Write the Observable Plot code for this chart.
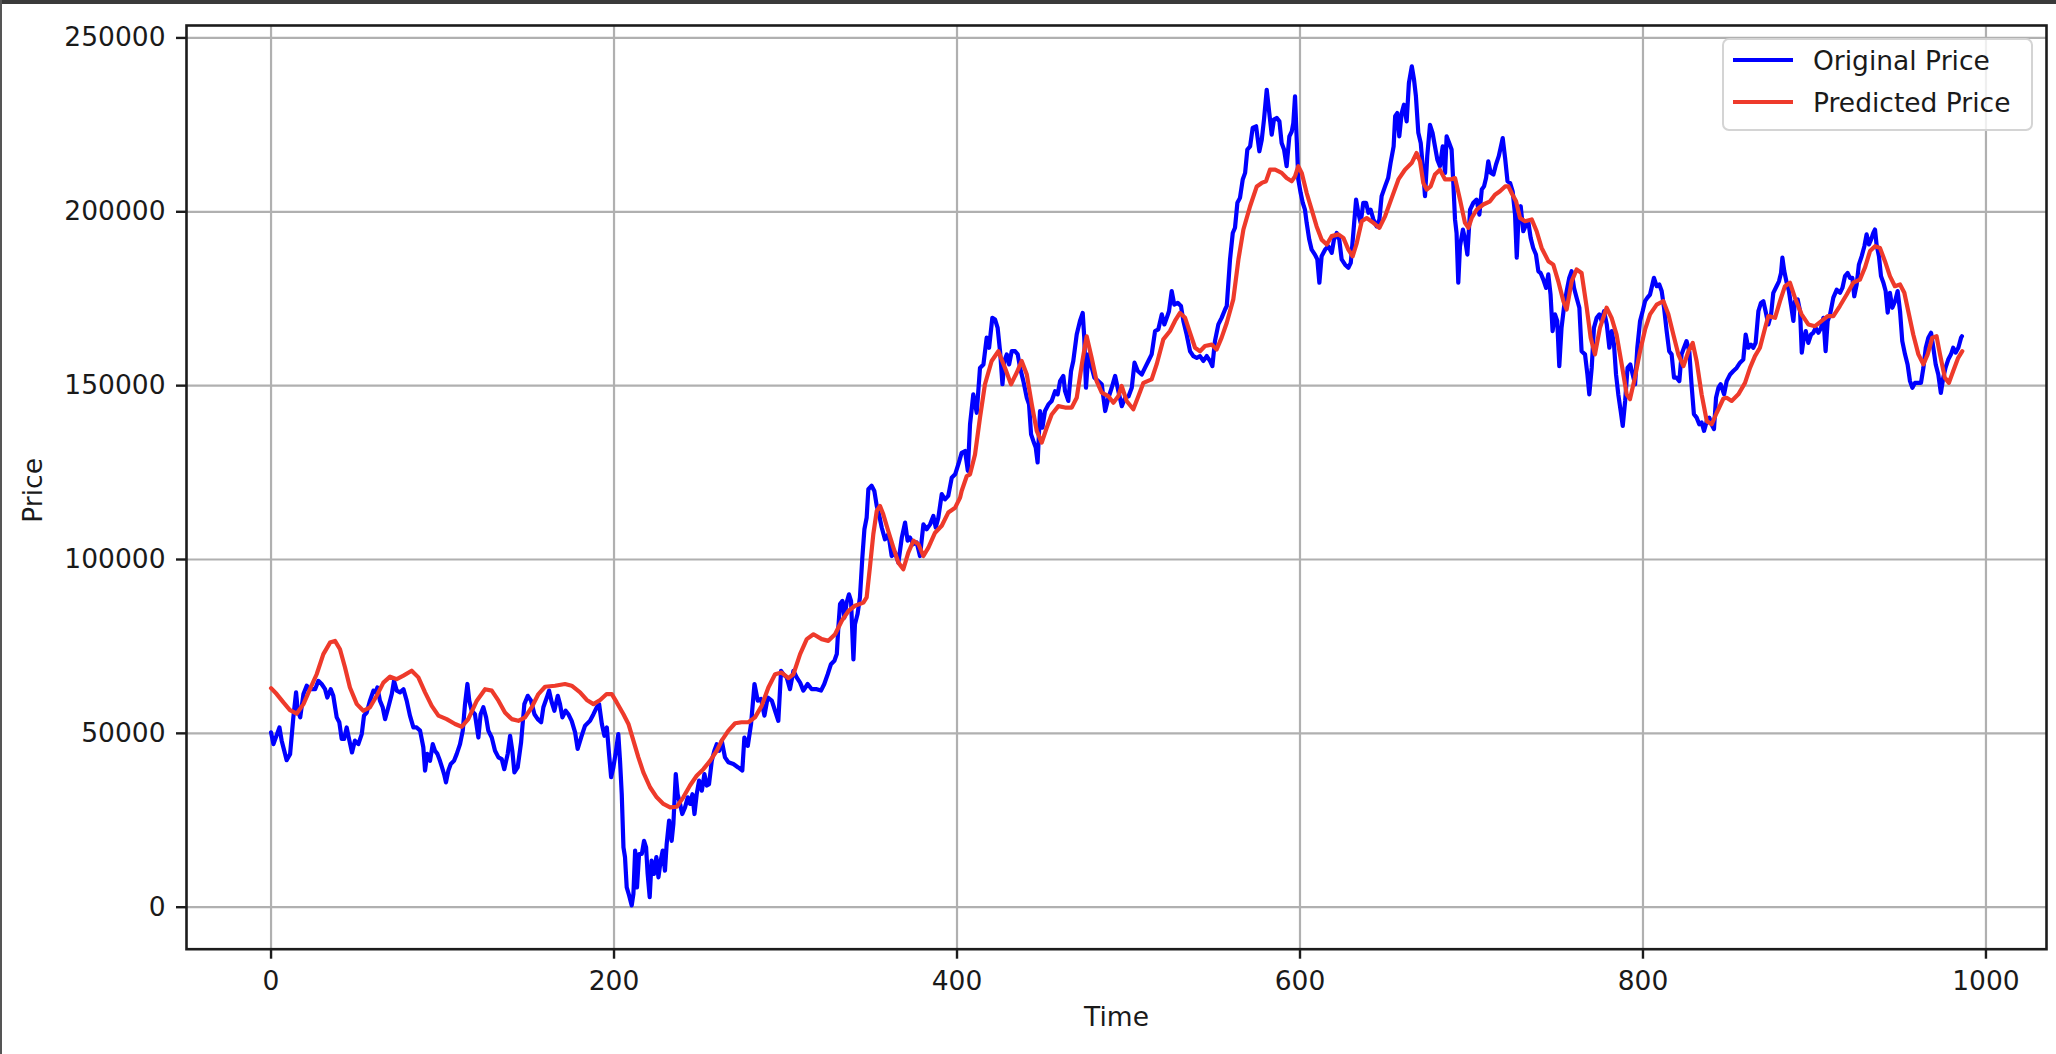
<!DOCTYPE html>
<html>
<head>
<meta charset="utf-8">
<script src="https://cdn.jsdelivr.net/npm/d3@7"></script>
<script src="https://cdn.jsdelivr.net/npm/@observablehq/plot@0.6"></script>
<style>
  html, body { margin: 0; padding: 0; background: #fff; width: 2056px; height: 1054px; overflow: hidden; }
  #chart { position: absolute; left: 0; top: 0; }
  .bar-top { position: absolute; left: 0; top: 0; width: 2056px; height: 4px; background: #3a3a3a; }
  .bar-left { position: absolute; left: 0; top: 0; width: 2px; height: 1054px; background: #555; }
</style>
</head>
<body>
<div id="chart"></div>
<div class="bar-top"></div>
<div class="bar-left"></div>
<script>
// ---- Data: [time, price] ----
const originalPrice = [
[0,50300],[1.4,46900],[4.9,51700],[6.2,47900],[9.1,42300],[11.1,44000],[13,54600],[14.6,61800],[15.6,56500],[17,54600],
[18.9,61300],[20.8,63700],[22.7,62700],[25.7,62700],[27.6,65100],[29.5,64200],[31.5,62700],[32.8,60300],[34.8,62700],[36.3,60800],
[38.3,54600],[39.8,53200],[41.2,48400],[42.6,48400],[44.1,51700],[45.7,47900],[47.2,44500],[48.9,47900],[50.9,46900],[52.9,49800],
[54.2,55100],[55.8,56000],[57.7,59400],[59.7,62300],[61,61800],[62,63200],[63.5,59400],[65.1,57500],[66.5,54100],[68.4,57500],
[70.4,61300],[71.7,65100],[73.3,62300],[75.2,61800],[77.2,62700],[79.1,59400],[81,55100],[83,51700],[84.9,51700],[86.9,50800],
[88.8,46000],[89.8,39300],[91.1,44100],[92.7,42100],[94.3,46900],[95.6,45000],[97,44100],[98.5,42100],[99.7,40200],[100.9,38300],
[102,35900],[103.4,39300],[104.8,41200],[106.7,42100],[108.3,44100],[110.2,46900],[111.8,50800],[113.1,58400],[114.5,64200],[115.6,59400],
[117,56500],[118.9,55500],[120.9,48800],[122.2,55500],[123.8,57500],[125.4,54600],[126.7,50800],[128.7,48800],[130.6,45000],[132.6,43100],
[134.5,42600],[136,39700],[138,44100],[139.4,49300],[140.7,45000],[141.9,38800],[143.8,40200],[145.8,47400],[147.7,58400],[149.7,60800],
[151.6,59400],[153.6,55500],[155.5,54100],[157.5,53200],[158.8,57500],[160.8,60300],[162.1,62300],[163.7,58900],[165.2,56500],[167.2,60800],
[168.5,58400],[169.9,54600],[171.8,56500],[173.4,55500],[175.3,53600],[177.3,50300],[178.8,45500],[180.8,48800],[183.1,52200],[186,53600],
[188,55500],[189.9,57500],[191.3,58400],[192.9,52700],[194.4,49300],[195.8,51700],[197.1,44100],[198.3,37400],[199.6,40200],[201,44500],
[202.5,49800],[203.5,42100],[204.5,32500],[205.5,17200],[206.4,14400],[207.4,5700],[208.8,3400],[210.3,500],[211.3,3800],[212.3,16300],
[213.4,5700],[214.6,15300],[216.2,15300],[217.5,19100],[218.7,17200],[219.6,9600],[220.8,2900],[221.9,13400],[223.3,9600],[224.7,14400],
[225.9,8600],[227.2,13400],[228.4,16300],[229.7,10500],[230.7,18200],[232.1,24900],[233.6,19100],[234.6,23900],[236,38300],[237.1,32500],
[238.5,29700],[239.8,26800],[241.4,28700],[243,31600],[244.3,29700],[245.7,32500],[246.9,26800],[248.2,32500],[249.6,36400],[251.2,33500],
[252.7,38300],[254.1,35000],[255.4,35400],[257,42100],[258.5,45000],[259.9,46900],[261.3,45000],[262.8,47900],[264.7,43100],[266.7,41700],
[269.6,41200],[272.4,40200],[274.8,39300],[276,48800],[278,46400],[279.9,52700],[281.9,64200],[283.8,59400],[285.7,59900],[287.7,55100],
[289.6,60300],[292,59400],[293.9,56500],[295.8,53600],[297.4,68000],[298.7,67000],[300.7,66100],[302.6,62700],[304.6,68000],[306.5,66100],
[308.5,64600],[310.4,62300],[312.9,64200],[315.3,62700],[318.2,62700],[320.7,62300],[322.6,64200],[324.6,67000],[326.5,69900],[328.5,70900],
[329.9,72800],[330.8,80500],[331.8,87200],[333.2,88100],[334.3,83300],[335.7,87700],[337,90000],[338.2,88100],[339.6,71300],[340.5,81400],
[342,84300],[343.4,89100],[344.8,100600],[346,108700],[347.3,112000],[348.3,120200],[350.2,121200],[351.8,119700],[353.2,115400],[354.5,113000],
[356.1,109200],[358,105800],[360,107300],[361.9,101000],[363.9,102000],[365.8,99100],[367.8,106300],[369.7,110600],[371.2,105400],[372.6,106300],
[374.5,104400],[376.5,104900],[378.4,101000],[380.4,110100],[382.3,108700],[384.3,110100],[386.2,112500],[387.6,109200],[389.1,112000],[391.1,118800],
[393,117300],[394.9,118300],[396.9,123500],[398.9,124500],[400.8,127400],[402.7,130700],[404.7,131200],[406.3,125500],[407.6,138900],[409.5,147500],
[411.5,142200],[413.4,155100],[415.4,156100],[417.3,163800],[418.7,160900],[420.6,169500],[422.2,169000],[423.7,166600],[425.1,159900],[426.5,150400],
[427.6,157100],[429,159000],[430.4,156100],[431.9,159900],[433.9,159900],[435.4,159000],[436.8,155100],[438.7,151300],[440.7,146500],[442,144600],
[443.2,136000],[444.5,134100],[445.9,132200],[447,127900],[448.4,142700],[449.8,137900],[451.3,142700],[453.3,144600],[455.2,145600],[457.2,148400],
[458.7,147500],[460.1,151300],[462,152800],[463,148400],[464.9,145600],[466.5,154200],[467.8,157100],[469.8,164700],[471.7,168600],[473.3,170900],
[474.2,163800],[475.2,149400],[476.6,159000],[478.1,156100],[480.1,152300],[482.4,151300],[484.4,150400],[486.4,142700],[488.3,146500],[490.2,149400],
[492.2,152800],[494.1,148400],[496.1,144100],[498,146500],[500,146900],[501.9,149400],[503.5,156600],[505.4,154200],[507.7,153200],[509.6,155100],
[511.6,157100],[513.5,159000],[515.5,165700],[517.4,166200],[519.4,170500],[520.9,167600],[522.3,169500],[523.6,171400],[525.2,177200],[526.7,173300],
[528.7,173800],[530.6,172900],[532,168600],[533.9,164700],[535.9,159900],[537.8,158500],[539.8,158000],[541.7,158500],[543.6,157100],[545.6,158500],
[547.5,157100],[548.9,155600],[550.4,162800],[552.4,167600],[554.3,169500],[556.3,171900],[557.3,172900],[559.2,186300],[560.8,193900],[562.1,195400],
[563.5,202600],[565,204000],[566.6,209300],[568,211200],[569.3,217900],[570.9,218800],[572.4,224100],[574.4,224600],[576.3,217400],[577.7,220700],
[579,226500],[580.6,235100],[582.1,228400],[583.5,222200],[584.8,226500],[586.4,227000],[588,226000],[589.3,219800],[590.7,217900],[592.2,213100],
[593.8,221700],[595.2,223100],[596.1,225500],[597.1,233200],[598.1,220700],[599,209300],[600.4,205400],[601.6,202600],[602.9,200600],[603.9,196800],
[605.4,192000],[606.8,189100],[608.7,187700],[610.1,186300],[611.3,179600],[612.6,187200],[614.6,189100],[616.5,190100],[618.5,188200],[619.8,192000],
[621.4,193900],[622.9,192000],[624.3,186300],[626.3,184800],[628.2,183900],[629.6,185300],[631.1,193900],[632.7,203500],[634,199700],[635.4,196800],
[636.9,202600],[638.5,202600],[639.9,199700],[641.2,200600],[642.8,197800],[644.7,195800],[646.3,197800],[647.6,204500],[649.6,207300],[651.4,209700],
[652.8,214000],[654.6,218800],[655.5,227500],[656.7,228400],[657.9,221700],[659.3,228400],[660.6,230800],[662.2,226000],[663.5,237000],[665.2,241800],
[666.5,238000],[667.6,233200],[669,222700],[670.4,219800],[671.9,211200],[672.9,204500],[674.2,216000],[675.8,225000],[677.3,222700],[678.7,218800],
[680.1,215000],[681.6,213100],[683.2,218800],[684.6,211200],[685.5,221700],[687,219800],[688.4,217900],[689.4,208300],[690.4,197800],[691.3,193900],
[692.3,179600],[693.3,190100],[695,194900],[696.3,192000],[697.6,187700],[699.2,200600],[701.1,202600],[703,203500],[704.6,199200],[706,206400],
[707.3,207300],[708.5,209700],[709.8,214500],[711.2,211200],[712.8,210700],[714.3,213600],[715.9,216000],[717,218400],[718.2,221200],[719.6,215500],
[721,208800],[722.5,208300],[724,205900],[725.4,199200],[726.4,186800],[727.3,197300],[728.7,201600],[730.2,194400],[731.8,196300],[733.1,197300],
[734.5,192500],[736,189600],[737.6,187700],[739,182900],[740.3,182400],[741.9,180500],[743.5,178100],[744.8,182000],[746.1,176200],[747.3,165700],
[748.7,170500],[750,168600],[751.2,155600],[752.5,166600],[753.9,172400],[755.5,177200],[757,181000],[758.4,182900],[759.8,178100],[761.3,175300],
[762.9,172400],[764.2,159900],[766.2,159000],[767.6,153200],[768.7,147500],[770.1,155100],[771.4,166600],[773,169500],[774.6,170500],[775.9,168600],
[777.3,171400],[778.9,167600],[780.4,160900],[781.8,165700],[783.1,161800],[784.3,153200],[785.6,147500],[787,142700],[788.2,138400],[789.6,145600],
[791,155100],[792.6,156100],[794,153200],[795.4,150400],[796.7,160900],[798.3,168600],[799.8,171400],[801.2,174300],[802.6,175300],[804.1,176200],
[805,178100],[806.4,181000],[808,178600],[809.5,179100],[810.9,177200],[812.3,172400],[813.8,165700],[815.3,159900],[816.7,159000],[818.1,152300],
[819.6,152300],[821.2,151300],[822.5,159000],[823.9,160900],[825.4,162800],[827,159900],[828.3,150400],[829.7,141800],[831.3,140800],[832.8,138900],
[834.2,139400],[835.6,137000],[837.2,139800],[838.7,140800],[840,138900],[841.4,137500],[842.6,146500],[844,149400],[845.3,150400],[847.3,147500],
[848.8,151300],[850.8,153200],[852.7,154200],[854.6,155100],[856.6,156600],[858.5,157500],[859.9,164700],[861.4,160900],[863,161800],[864.3,160900],
[865.7,162300],[867.3,171400],[868.8,173800],[870.2,174300],[871.5,171400],[873.1,167600],[874.7,170500],[876,176700],[877.9,178600],[879.3,180000],
[880.5,182400],[881.3,186800],[882.4,182900],[883.8,179600],[885.1,177200],[886.3,173300],[887.7,168600],[888.6,174300],[890.2,174800],[891.6,171400],
[892.6,159500],[893.5,162800],[894.9,165700],[896.4,162300],[898,164700],[899.3,165200],[900.7,166600],[902.3,165200],[903.8,166600],[905.2,169500],
[906.5,159900],[907.7,168600],[909.1,170500],[911,175300],[913,177600],[914.9,176700],[916.3,178100],[917.8,181500],[919.3,182400],[920.7,181000],
[922.1,181000],[923.2,175700],[924.6,179100],[925.9,184800],[927.5,187200],[929.1,190100],[930.4,193500],[931.8,190600],[933,192000],[934.3,193900],
[935.3,194900],[936.2,190600],[937.6,187200],[938.8,181500],[940.2,179600],[941.5,177200],[942.7,171000],[944,176700],[945.4,172400],[947,174300],
[948.5,177200],[949.9,171400],[951.2,162800],[952.8,159000],[954.3,156100],[955.7,151300],[957.1,149400],[958.6,150800],[960.6,150800],[962.1,150800],
[963.5,155100],[964.9,160900],[966.4,163800],[968,165200],[969.3,160900],[970.7,156100],[972.2,153200],[973.7,147900],[975.1,152300],[976.4,155100],
[978,157500],[979.6,159000],[980.9,160900],[982.3,159500],[983.9,160900],[985.5,163800],[986,164200]
];

const predictedPrice = [
[0,63000],[3.3,61300],[7.2,58900],[11,56700],[15,55700],[18.9,58400],[22.7,62700],[26.6,67000],[30.5,72800],[34.4,76100],
[37.3,76600],[40.2,74200],[43.1,69000],[46,63200],[50,58400],[53.8,56500],[57.7,57500],[61.6,60800],[65.5,64600],[69.4,66300],
[73.3,65600],[77.2,66600],[82,68000],[85.9,66100],[89.8,61800],[93.7,57900],[97.6,55100],[102.4,54100],[107.3,52700],[111.2,51900],
[115,54100],[120,59400],[124.8,62700],[128.7,62300],[132.6,59400],[136.4,56000],[140.3,54100],[144.2,53600],[148.1,54600],[152,57500],
[155.9,61300],[159.8,63400],[165.6,63700],[171.4,64200],[175.3,63700],[180.2,61800],[184.1,59600],[188,58400],[191.9,59600],[195.7,61300],
[198.7,61300],[201.6,58900],[205.5,55500],[208.4,52700],[211.3,47900],[214.2,43100],[217.1,38800],[221,34500],[224.9,31600],[228.8,29700],
[232.7,28700],[236.6,28900],[240.4,31600],[244.3,35000],[248.2,37800],[252.1,39700],[256,42100],[259.9,45000],[262.8,47900],[266.7,50800],
[270.6,52900],[274.4,53200],[278.3,53200],[282.2,54600],[286.1,57900],[290,63200],[293.9,67000],[297.7,67500],[301.7,65900],[304.6,67000],
[308.5,72800],[312.4,77100],[316.3,78500],[321.1,77100],[325,76600],[328.9,78500],[332.8,82400],[336.7,85200],[340.5,86700],[345.4,87600],
[347.3,89100],[349.2,97700],[351.2,107300],[353.2,114000],[355.1,115400],[357,113000],[359.9,108200],[362.9,103400],[365.8,99100],[368.7,97200],
[371.6,102000],[374.6,105400],[377.5,104400],[380.4,101000],[383.3,103400],[387.2,107700],[391.1,109700],[394.9,113500],[398.9,114900],[401.8,117800],
[402.7,119700],[405.7,124000],[407.6,124500],[410.5,130200],[413.4,140800],[416.3,150400],[420.2,157100],[424.1,159900],[428,155100],[431.5,150400],
[434.8,153700],[437.7,157100],[440.7,153200],[443.6,144600],[446.5,137000],[449.4,133600],[452.3,137900],[455.2,141700],[459.1,144100],[463,143700],
[466.9,143700],[469.8,146500],[473.1,157100],[475.6,164200],[478.5,158000],[481.4,151300],[484.4,148000],[488.2,147000],[491.2,145100],[494.1,147000],
[496,149900],[498.9,145600],[502.8,143200],[505.8,147000],[508.7,150800],[513.5,151800],[516.4,156100],[520.3,163300],[524.2,165700],[527.1,168600],
[530,170900],[533,169500],[535.9,165200],[538.8,160900],[541.7,159900],[544.6,161400],[548.5,161800],[551.4,160400],[554.3,163800],[557.3,168100],
[561.1,174800],[564.1,186300],[567,194900],[570.9,201600],[574.8,207300],[577.7,208300],[580.2,208800],[582.5,212100],[585.5,212100],[589.3,211200],
[592.2,209700],[595.2,208800],[597.1,210200],[599,213100],[601,211200],[603.9,205400],[606.8,200600],[609.7,195800],[612.6,192000],[615.6,190600],
[618.5,193000],[622.4,193500],[625.3,192500],[628.2,189100],[630.7,187200],[633.1,191000],[636,197300],[638.9,198200],[642.8,196800],[646.3,195400],
[649.6,198700],[653.5,204000],[657.4,209300],[661.2,212100],[665.1,214000],[668,216900],[670,214500],[671.9,208300],[673.9,206400],[676.2,207300],
[678.7,210700],[681.6,212100],[684.6,209300],[687.5,209300],[690.4,209700],[693.3,203500],[696.2,196800],[698.2,195400],[700.1,198200],[703,200600],
[706.9,202100],[710.8,203000],[713.7,204900],[716.6,205900],[719.6,207300],[721.5,207300],[723.4,205400],[726,203000],[728.3,198200],[731.2,197300],
[735.1,197800],[738,194400],[740.9,189600],[744.8,185800],[747.7,184800],[750.6,180000],[753.6,174300],[755.5,171900],[758.4,180000],[761.3,183400],
[764.2,182400],[767.2,172400],[769.5,163800],[772,159000],[774.9,166600],[778.8,172400],[781.7,169500],[784.6,164700],[787.6,156100],[790.5,147500],
[792.4,146100],[795.3,152300],[798.3,159900],[801.2,166100],[804.1,170500],[808,173300],[811.9,174300],[814.8,170500],[817.7,164700],[820.6,159000],
[823.6,155600],[826.5,159900],[829,162300],[831.3,157000],[834.2,147500],[837.2,139800],[840.1,138900],[843,142200],[846.9,146300],[848.8,146500],
[851.7,145600],[855.6,147500],[859.5,150800],[862.4,155100],[865.3,158500],[868.2,160900],[871.2,166600],[873.1,170000],[877,169500],[879.9,174300],
[882.8,178600],[885.7,179600],[888.6,175300],[892.5,170500],[896.4,167600],[900.3,167100],[904.2,168600],[907.7,170000],[911,170000],[914.8,172900],
[918.8,176200],[922.6,179600],[926.5,180500],[929.4,183900],[932.4,188700],[935.3,190100],[938.2,189600],[941.1,185800],[944,181500],[946.9,178600],
[949.9,179100],[952.4,176700],[954.7,171400],[957.6,164700],[960.6,159000],[963.5,156100],[966,159000],[968.7,163800],[971.2,164200],[973.2,159000],
[976,152300],[978.4,150800],[980.9,154200],[983.8,158000],[986.2,159900]
];

const xTicks = [0, 200, 400, 600, 800, 1000];
const yTicks = [0, 50000, 100000, 150000, 200000, 250000];
const seriesNames = ["Original Price", "Predicted Price"];
const seriesColors = ["#0000ff", "#ee3a2b"];
const xLabel = "Time";
const yLabel = "Price";

// ---- Chart ----
const FONT = "'DejaVu Sans', sans-serif";
const FS = 26.5;
const W = 2056, H = 1054;
const mL = 186, mR = 10, mT = 25, mB = 105.3;

const chart = Plot.plot({
  width: W,
  height: H,
  marginLeft: mL,
  marginRight: mR,
  marginTop: mT,
  marginBottom: mB,
  style: { fontFamily: FONT, fontSize: FS + "px", color: "#000", background: "transparent", overflow: "visible" },
  x: { domain: [-49.3, 1035.3], label: null },
  y: { domain: [-12075, 253575], label: null },
  marks: [
    Plot.gridX(xTicks, { stroke: "#b0b0b0", strokeOpacity: 1, strokeWidth: 2.2 }),
    Plot.gridY(yTicks, { stroke: "#b0b0b0", strokeOpacity: 1, strokeWidth: 2.2 }),
    Plot.line(originalPrice, { x: d => d[0], y: d => d[1], stroke: seriesColors[0], strokeWidth: 4.2, strokeLinejoin: "round" }),
    Plot.line(predictedPrice, { x: d => d[0], y: d => d[1], stroke: seriesColors[1], strokeWidth: 4.2, strokeLinejoin: "round" }),
    Plot.frame({ stroke: "#1c1c1c", strokeWidth: 2.6 }),
    Plot.axisX(xTicks, { tickSize: 10, tickPadding: 12, tickFormat: d => String(d), stroke: "#1c1c1c", strokeWidth: 2.4, fill: "#1a1a1a", label: null }),
    Plot.axisY(yTicks, { tickSize: 10, tickPadding: 11, tickFormat: d => String(d), stroke: "#1c1c1c", strokeWidth: 2.4, fill: "#1a1a1a", label: null }),
    Plot.text([yLabel], { text: d => d, frameAnchor: "left", textAnchor: "middle", lineAnchor: "middle", dx: 33 - mL, dy: 3, rotate: -90, fill: "#1a1a1a", fontSize: FS }),
    Plot.text([xLabel], { text: d => d, frameAnchor: "bottom", textAnchor: "middle", lineAnchor: "middle", dy: 68, fill: "#1a1a1a", fontSize: FS })
  ]
});

document.getElementById("chart").appendChild(chart);

// ---- Legend (inside the plot, upper right) ----
const svg = d3.select(chart);
const lg = svg.append("g").attr("font-family", FONT).attr("font-size", FS).attr("text-anchor", "start");
lg.append("rect")
  .attr("x", 1723).attr("y", 39).attr("width", 309).attr("height", 91)
  .attr("rx", 6).attr("ry", 6)
  .attr("fill", "#fff").attr("fill-opacity", 0.8)
  .attr("stroke", "#d4d4d4").attr("stroke-width", 2);
seriesNames.forEach((name, i) => {
  const y = 60 + i * 42;
  lg.append("line")
    .attr("x1", 1733).attr("x2", 1793).attr("y1", y).attr("y2", y)
    .attr("stroke", seriesColors[i]).attr("stroke-width", 4.2);
  lg.append("text")
    .attr("x", 1813).attr("y", y).attr("dy", "0.36em")
    .attr("text-anchor", "start")
    .attr("fill", "#1a1a1a").text(name);
});
</script>
</body>
</html>
